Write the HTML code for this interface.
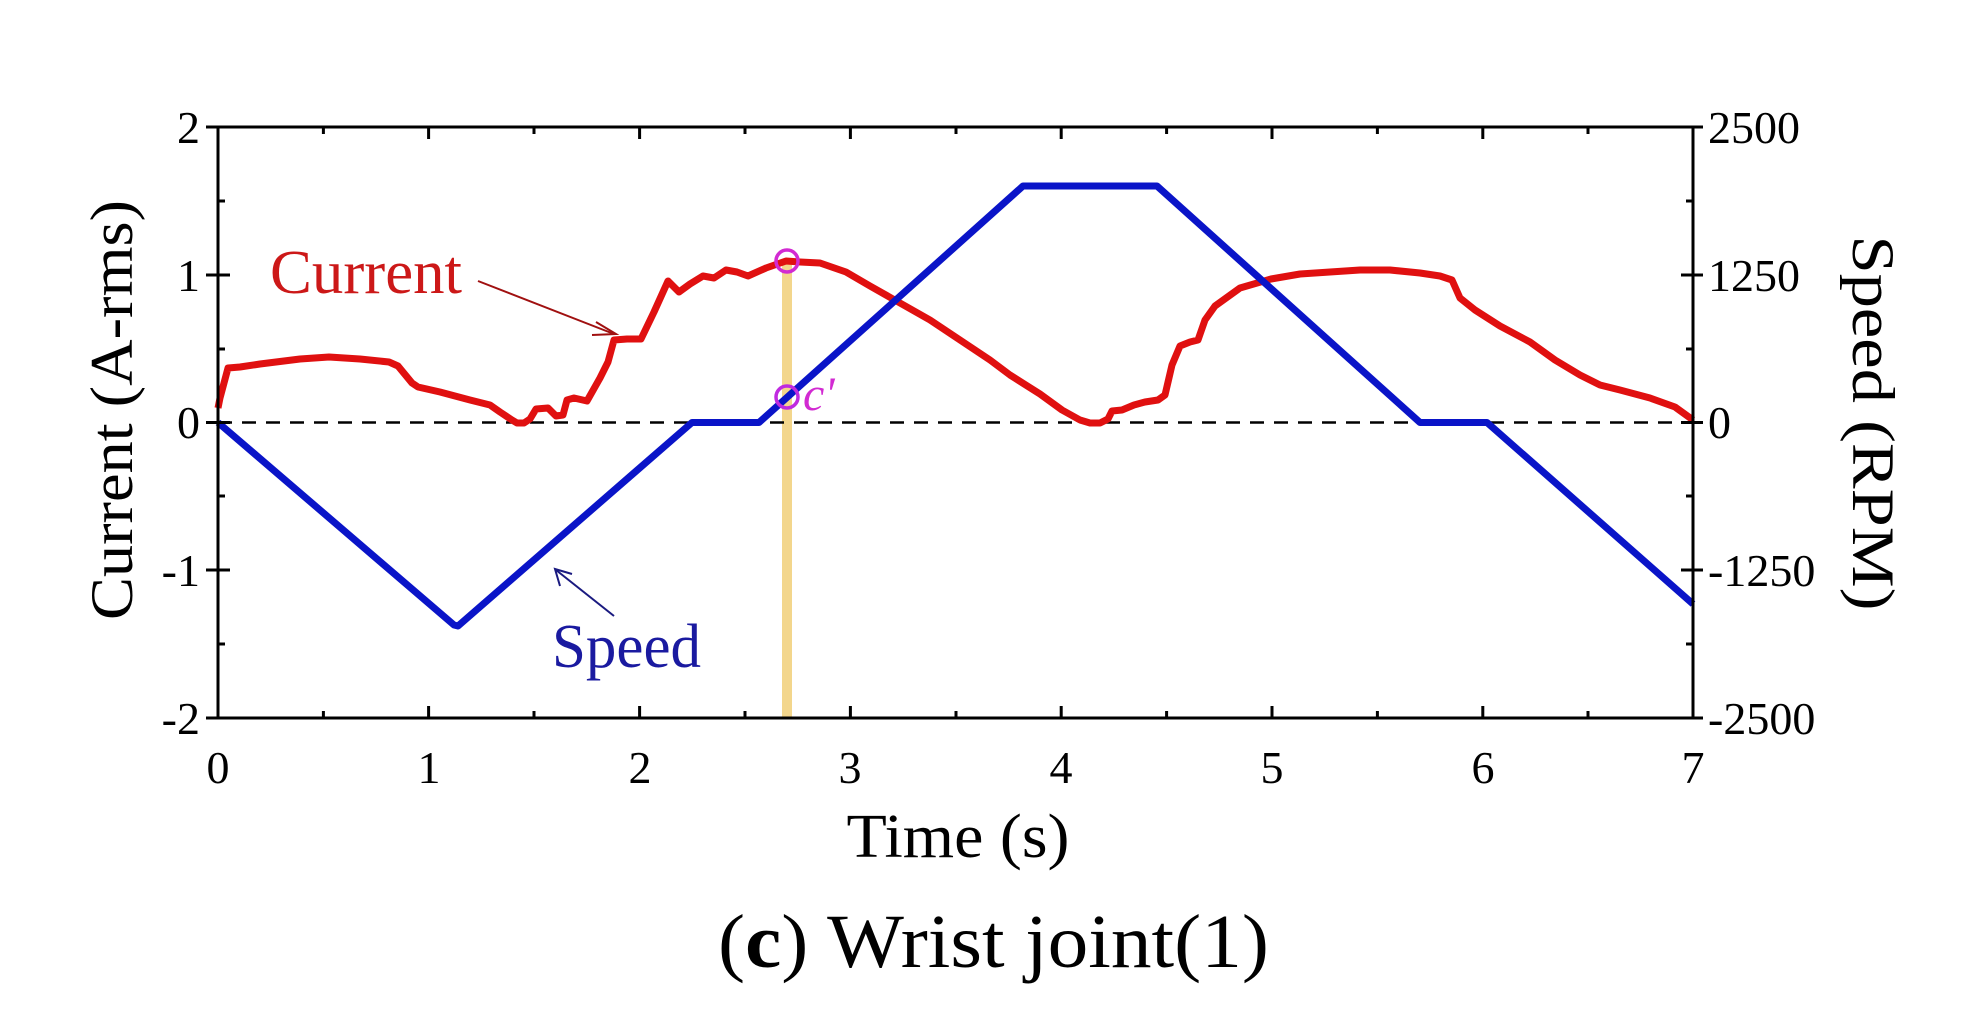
<!DOCTYPE html>
<html><head><meta charset="utf-8"><style>html,body{margin:0;padding:0;background:#fff}svg{display:block}</style></head>
<body>
<svg width="1968" height="1016" viewBox="0 0 1968 1016" xmlns="http://www.w3.org/2000/svg" font-family="'Liberation Serif', serif">
<rect width="1968" height="1016" fill="#fff"/>
<line x1="787" y1="718" x2="787" y2="262" stroke="#f3d68c" stroke-width="10"/>
<line x1="218" y1="422.5" x2="1693" y2="422.5" stroke="#000" stroke-width="2.5" stroke-dasharray="14,10"/>
<polyline fill="none" stroke="#e01010" stroke-width="7" stroke-linejoin="round" points="
218,408 220,398 228,368 240,367 260,364 300,359 329,357 360,359 389,362 398,366 412,383 418,387 440,392 470,400 490,405 500,412 512,420 517,423 524,423 530,419 536,409 548,408 556,416 563,415 567,400 574,398 587,401 600,378 608,362 614,340 627,339 641,339 654,312 668,281 679,292 690,284 703,276 714,278 726,270 737,272 748,276 766,268 786,261 800,262 820,263 846,272 870,286 900,303 930,320 960,340 990,360 1010,375 1040,394 1062,410 1080,420 1090,423 1100,423 1108,419 1112,411 1122,410 1134,405 1145,402 1158,400 1165,395 1172,365 1180,346 1190,342 1198,340 1205,320 1215,306 1240,288 1271,279 1300,274 1330,272 1360,270 1390,270 1420,273 1440,276 1452,280 1460,298 1475,310 1500,326 1530,342 1555,360 1580,375 1600,385 1620,390 1650,398 1675,407 1693,420"/>
<polyline fill="none" stroke="#0a14c8" stroke-width="7" stroke-linejoin="round" points="
218,422.5 454,625 458,626 692,422.5 759,422.5 1023,186 1157,186 1420,422.5 1487,422.5 1693,604"/>
<circle cx="787" cy="261" r="11" fill="none" stroke="#d22ad2" stroke-width="3.5"/>
<circle cx="787" cy="397" r="11" fill="none" stroke="#c02ae0" stroke-width="3.5"/>
<text x="803" y="410" font-size="48" font-style="italic" fill="#d22ad2">c'</text>
<text x="270" y="293" font-size="62" fill="#cc1818" textLength="192" lengthAdjust="spacingAndGlyphs">Current</text>
<line x1="478" y1="281" x2="614" y2="334" stroke="#a01010" stroke-width="2"/>
<polyline points="596,322 616,334 592,335" fill="none" stroke="#a01010" stroke-width="2"/>
<text x="552" y="667" font-size="62" fill="#1a1aa0" textLength="149" lengthAdjust="spacingAndGlyphs">Speed</text>
<line x1="614" y1="616" x2="556" y2="570" stroke="#1a1a80" stroke-width="2"/>
<polyline points="560,586 555,569 572,574" fill="none" stroke="#1a1a80" stroke-width="2"/>
<rect x="218" y="127" width="1475" height="591" fill="none" stroke="#000" stroke-width="3"/>
<g stroke="#000" stroke-width="3">
  <path d="M218,718v-12M323.4,718v-7M428.6,718v-12M534,718v-7M639.6,718v-12M745,718v-7M850.4,718v-12M956,718v-7M1061.2,718v-12M1166.6,718v-7M1272,718v-12M1377.4,718v-7M1482.8,718v-12M1588,718v-7M1693,718v-12
  M218,127v12M323.4,127v7M428.6,127v12M534,127v7M639.6,127v12M745,127v7M850.4,127v12M956,127v7M1061.2,127v12M1166.6,127v7M1272,127v12M1377.4,127v7M1482.8,127v12M1588,127v7M1693,127v12"/>
  <path d="M218,127h12M218,201h7M218,275h12M218,349h7M218,422.5h12M218,496h7M218,570h12M218,644h7M218,718h12
  M1693,127h-12M1693,201h-7M1693,275h-12M1693,349h-7M1693,422.5h-12M1693,496h-7M1693,570h-12M1693,644h-7M1693,718h-12"/>
  <path d="M206,127h12M206,275h12M206,422.5h12M206,570h12M206,718h12M1693,127h10M1693,275h10M1693,422.5h10M1693,570h10M1693,718h10"/>
</g>
<g font-size="46" fill="#000">
  <g text-anchor="end">
    <text x="200" y="143">2</text><text x="200" y="291">1</text><text x="200" y="438">0</text><text x="200" y="586">-1</text><text x="200" y="734">-2</text>
  </g>
  <g text-anchor="start">
    <text x="1708" y="143">2500</text><text x="1708" y="291">1250</text><text x="1708" y="438">0</text><text x="1708" y="586">-1250</text><text x="1708" y="734">-2500</text>
  </g>
  <g text-anchor="middle">
    <text x="218" y="783">0</text><text x="429" y="783">1</text><text x="640" y="783">2</text><text x="850" y="783">3</text><text x="1061" y="783">4</text><text x="1272" y="783">5</text><text x="1483" y="783">6</text><text x="1693" y="783">7</text>
  </g>
</g>
<text x="958" y="857" font-size="62" text-anchor="middle" textLength="223" lengthAdjust="spacingAndGlyphs">Time (s)</text>
<text transform="translate(132,410) rotate(-90)" font-size="60" text-anchor="middle" textLength="420" lengthAdjust="spacingAndGlyphs">Current (A-rms)</text>
<text transform="translate(1853,423) rotate(90)" font-size="60" text-anchor="middle" textLength="375" lengthAdjust="spacingAndGlyphs">Speed (RPM)</text>
<text x="718" y="967" font-size="76" textLength="551" lengthAdjust="spacingAndGlyphs">(<tspan font-weight="bold">c</tspan>) Wrist joint(1)</text>
</svg>
</body></html>
